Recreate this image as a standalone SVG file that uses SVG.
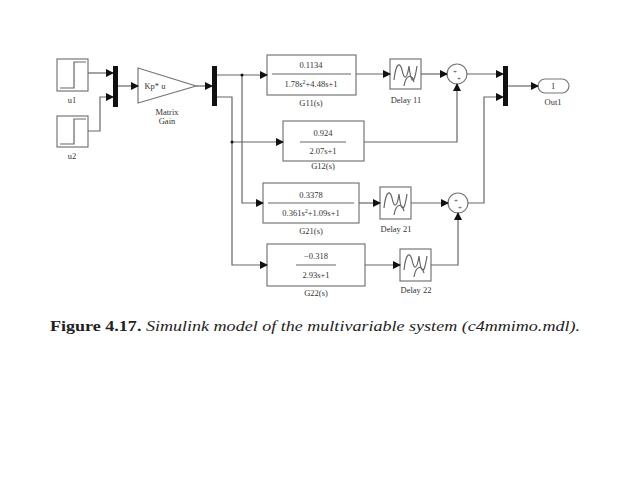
<svg xmlns="http://www.w3.org/2000/svg" width="638" height="478" viewBox="0 0 638 478">
<defs>
<marker id="a" markerWidth="8" markerHeight="8" refX="7" refY="4" orient="auto" markerUnits="userSpaceOnUse"><path d="M0,0 L8,4 L0,8 Z" fill="#111"/></marker>
<style>
.b{fill:#fff;stroke:#777;stroke-width:1.2}
.l{fill:none;stroke:#666;stroke-width:1.2}
.c{stroke:#666;stroke-width:1.2;fill:none;marker-end:url(#a)}
.t{font-family:"Liberation Serif",serif;font-size:8.5px;fill:#333;text-anchor:middle}
.m{fill:#111}
.cap{font-family:"Liberation Serif","Times New Roman",serif;font-size:14.5px;fill:#222}
</style>
</defs>
<rect width="638" height="478" fill="#fff"/>
<g id="u1"><rect class="b" x="57" y="59" width="31" height="32"/><path class="l" d="M60,88 H74 V62 H86"/><text class="t" x="72" y="103">u1</text></g>
<g id="u2"><rect class="b" x="57" y="116" width="31" height="31"/><path class="l" d="M60,144 H74 V119 H86"/><text class="t" x="72" y="159">u2</text></g>
<g id="mux1"><rect class="m" x="113" y="66" width="5" height="41"/></g>
<g id="gain"><path class="b" d="M138,68 L196,86 L138,103 Z"/><text class="t" x="155" y="89">Kp* u</text><text class="t" x="167" y="115">Matrix</text><text class="t" x="167" y="124">Gain</text></g>
<g id="demux"><rect class="m" x="212" y="66" width="5" height="40"/></g>
<g id="G11"><rect class="b" x="267" y="55" width="89" height="40"/><text class="t" x="311" y="68">0.1134</text><path class="l" d="M272,74 H351"/><text class="t" x="311" y="87">1.78s<tspan dy="-3" font-size="6">2</tspan><tspan dy="3">+4.48s+1</tspan></text><text class="t" x="311" y="106">G11(s)</text></g>
<g id="G12"><rect class="b" x="283" y="121" width="81" height="40"/><text class="t" x="323" y="136">0.924</text><path class="l" d="M300,142 H346"/><text class="t" x="323" y="154">2.07s+1</text><text class="t" x="323" y="169">G12(s)</text></g>
<g id="G21"><rect class="b" x="263" y="183" width="96" height="40"/><text class="t" x="311" y="198">0.3378</text><path class="l" d="M268,203 H354"/><text class="t" x="311" y="216">0.361s<tspan dy="-3" font-size="6">2</tspan><tspan dy="3">+1.09s+1</tspan></text><text class="t" x="311" y="234">G21(s)</text></g>
<g id="G22"><rect class="b" x="267" y="244" width="98" height="42"/><text class="t" x="316" y="259">−0.318</text><path class="l" d="M296,265 H336"/><text class="t" x="316" y="278">2.93s+1</text><text class="t" x="316" y="296">G22(s)</text></g>
<g id="d11"><rect class="b" x="390" y="59" width="31" height="30"/><path class="l" d="M394,80 C396,62 400,62 402,70 C404,80 407,80 409,66 C411,84 414,86 417,66 M404,86 C406,74 412,74 414,82"/><text class="t" x="406" y="103">Delay 11</text></g>
<g id="d21"><rect class="b" x="380" y="187" width="31" height="32"/><path class="l" d="M384,208 C386,190 390,190 392,198 C394,208 397,208 399,194 C401,212 404,214 407,194 M394,215 C396,203 402,203 404,211"/><text class="t" x="396" y="232">Delay 21</text></g>
<g id="d22"><rect class="b" x="400" y="249" width="31" height="32"/><path class="l" d="M404,270 C406,252 410,252 412,260 C414,270 417,270 419,256 C421,274 424,276 427,256 M414,277 C416,265 422,265 424,273"/><text class="t" x="416" y="293">Delay 22</text></g>
<g id="sum1"><circle class="b" cx="457" cy="74" r="10"/><text class="t" x="455" y="74" style="font-size:7px">+</text><text class="t" x="459" y="81" style="font-size:7px">+</text></g>
<g id="sum2"><circle class="b" cx="458" cy="203" r="10"/><text class="t" x="456" y="203" style="font-size:7px">+</text><text class="t" x="460" y="210" style="font-size:7px">+</text></g>
<g id="mux2"><rect class="m" x="503" y="66" width="5" height="40"/></g>
<g id="out1"><rect class="b" x="538" y="79" width="31" height="14" rx="7"/><text class="t" x="553" y="89">1</text><text class="t" x="553" y="105">Out1</text></g>
<g id="connectors">
<path class="c" d="M88,73 H113"/>
<path class="c" d="M88,131 H100 V97 H113"/>
<path class="c" d="M118,86 H138"/>
<path class="c" d="M196,86 H212"/>
<path class="c" d="M217,75 H267"/>
<path class="c" d="M242,75 V203 H263"/>
<path class="c" d="M217,97 H232 V265 H267"/>
<path class="c" d="M232,142 H283"/>
<path class="c" d="M356,74 H390"/>
<path class="c" d="M421,74 H447"/>
<path class="c" d="M364,142 H457 V84"/>
<path class="c" d="M467,74 H503"/>
<path class="c" d="M359,203 H380"/>
<path class="c" d="M411,203 H448"/>
<path class="c" d="M365,265 H400"/>
<path class="c" d="M431,265 H458 V213"/>
<path class="c" d="M468,203 H484 V97 H503"/>
<path class="c" d="M508,86 H538"/>
<circle cx="242" cy="75" r="1.5" fill="#111"/>
<circle cx="232" cy="142" r="1.5" fill="#111"/>
</g>
<text class="cap" x="50" y="331" textLength="530" lengthAdjust="spacingAndGlyphs"><tspan font-weight="bold">Figure 4.17.</tspan><tspan font-style="italic"> Simulink model of the multivariable system (c4mmimo.mdl).</tspan></text>
</svg>
